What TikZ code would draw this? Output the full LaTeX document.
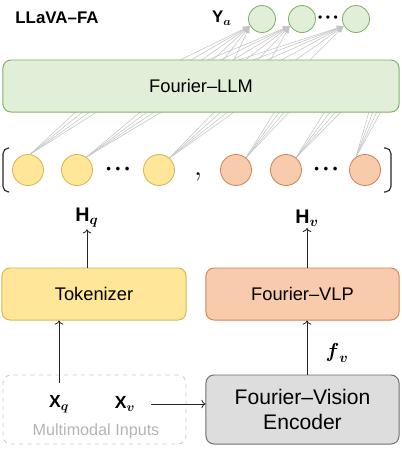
\documentclass[tikz,border=0pt]{standalone}
\usepackage{fontspec}
\setsansfont{Liberation Sans}
\usepackage{xcolor}
\usepackage{amsmath}
\usepackage{amssymb}
\usetikzlibrary{arrows,arrows.meta,calc,backgrounds,positioning}

\definecolor{llmfill}{HTML}{E1EFD8}
\definecolor{llmline}{HTML}{82B366}
\definecolor{tokfill}{HTML}{FFE699}
\definecolor{tokline}{HTML}{D6B656}
\definecolor{vlpfill}{HTML}{F8CBAD}
\definecolor{vlpline}{HTML}{D0845A}
\definecolor{encfill}{HTML}{DDDDDD}
\definecolor{encline}{HTML}{6E6E6E}
\definecolor{fanline}{HTML}{C4C4C4}
\definecolor{inpline}{HTML}{C8C8C8}
\definecolor{inptext}{HTML}{B4B4B4}

\newcommand{\tokdots}[1]{\sffamily •\kern#1•\kern#1•}

\tikzset{
  block/.style={draw, rounded corners=0.2cm, line width=0.7pt, align=center,
    font=\sffamily\fontsize{13}{15}\selectfont},
  qtok/.style={circle, draw=tokline, fill=tokfill, line width=0.6pt, minimum size=0.775cm, inner sep=0pt},
  vtok/.style={circle, draw=vlpline, fill=vlpfill, line width=0.6pt, minimum size=0.775cm, inner sep=0pt},
  otok/.style={circle, draw=llmline, fill=llmfill, line width=0.6pt, minimum size=0.675cm, inner sep=0pt},
  fan/.style={draw=fanline, line width=0.4pt},
  fanarrow/.style={fan, -{Latex[length=5pt,width=4pt]}},
  flow/.style={->, draw=black!85, line width=0.6pt},
  lbl/.style={inner sep=1pt}
}

\begin{document}
\begin{tikzpicture}[x=0.025cm, y=-0.025cm]
    \useasboundingbox (0,0) rectangle (402,449);

    % Title and outputs.
    \node[lbl, font=\sffamily\bfseries\fontsize{12}{14}\selectfont] (title) at (57,18) {LLaVA–FA};
    \node[lbl, font=\fontsize{12}{14}\selectfont] (ya) at (222,18) {\textsf{\textbf{Y}}$_{\boldsymbol{a}}$};
    \node[otok] (o1) at (262,19) {};
    \node[otok] (o2) at (302,19) {};
    \node[lbl, font=\fontsize{8.5}{10}\selectfont] (odots) at (328,19) {\tokdots{2.6pt}};
    \node[otok] (o3) at (356,19) {};

    % Language model.
    \node[block, draw=llmline, fill=llmfill, minimum width=9.9cm, minimum height=1.3cm] (llm) at (201,86) {Fourier–LLM};

    % Token sequence.
    \draw[black!85, line width=0.8pt, rounded corners=4pt] (9,148) -- (3,148) -- (3,192) -- (9,192);
    \draw[black!85, line width=0.8pt, rounded corners=4pt] (384,148) -- (391,148) -- (391,192) -- (384,192);
    \node[qtok] (t1) at (28,170) {};
    \node[qtok] (t2) at (77,170) {};
    \node[lbl, font=\fontsize{9.5}{11}\selectfont] (qdots) at (118,170) {\tokdots{3.3pt}};
    \node[qtok] (t3) at (159,170) {};
    \node[lbl, font=\fontsize{22}{22}\selectfont] (comma) at (198,177) {$,$};
    \node[vtok] (t4) at (236,170) {};
    \node[vtok] (t5) at (286,170) {};
    \node[lbl, font=\fontsize{9.5}{11}\selectfont] (vdots) at (326,170) {\tokdots{3.3pt}};
    \node[vtok] (t6) at (365,170) {};

    % Hidden states.
    \node[lbl, font=\fontsize{14}{16}\selectfont] (hq) at (87,218) {\textsf{\textbf{H}}$_{\boldsymbol{q}}$};
    \node[lbl, font=\fontsize{14}{16}\selectfont] (hv) at (307,218) {\textsf{\textbf{H}}$_{\boldsymbol{v}}$};

    % Tokenizer and projector.
    \node[block, draw=tokline, fill=tokfill, minimum width=4.6cm, minimum height=1.3cm] (tok) at (94,294) {Tokenizer};
    \node[block, draw=vlpline, fill=vlpfill, minimum width=4.825cm, minimum height=1.3cm] (vlp) at (302.5,294) {Fourier–VLP};

    % Inputs and encoder.
    \node[draw=inpline, dashed, rounded corners=0.2cm, line width=0.6pt, minimum width=4.575cm, minimum height=1.725cm] (inp) at (94.5,409.5) {};
    \node[lbl, font=\fontsize{12.5}{14}\selectfont] (xq) at (59,404) {\textsf{\textbf{X}}$_{\boldsymbol{q}}$};
    \node[lbl, font=\fontsize{12.5}{14}\selectfont] (xv) at (125,404) {\textsf{\textbf{X}}$_{\boldsymbol{v}}$};
    \node[lbl, text=inptext, font=\sffamily\fontsize{11.5}{13}\selectfont] (mm) at (96,431) {Multimodal Inputs};
    \node[block, draw=encline, fill=encfill, minimum width=4.825cm, minimum height=1.725cm,
      font=\sffamily\fontsize{15}{17.7}\selectfont] (enc) at (302.5,409.5) {Fourier–Vision\\Encoder};
    \node[lbl, font=\fontsize{14}{16}\selectfont] (fv) at (337,353) {$\boldsymbol{f}_{\boldsymbol{v}}$};

    % Arrows.
    \draw[flow, shorten <=8pt] (xq.north) -- (xq.north |- tok.south);
    \draw[flow] (tok.north -| hq) -- (hq.south);
    \draw[flow, shorten <=10pt] (xv.east) -- (enc.west |- xv.east);
    \draw[flow] (enc.north -| hv) -- (vlp.south -| hv);
    \draw[flow] (vlp.north -| hv) -- (hv.south);

    % Fans behind the model.
    \begin{scope}[on background layer]
        \foreach \t/\a/\xa/\xb in {t1/82/80/103, t2/54/145/168, t3/49/218/240, t4/51/277/293, t5/51/327/345, t6/124/370/383}
            \foreach \k in {0,...,3}
                \draw[fan] (\t.\a) -- ({\xa+\k*(\xb-\xa)/3},108);
        \foreach \o/\xa/\xs in {o1/172/12, o2/198/14, o3/226/16}
            \foreach \k in {0,...,5}
                \draw[fanarrow] ({\xa+\k*\xs},64) -- (\o.210);
    \end{scope}

\end{tikzpicture}
\end{document}
